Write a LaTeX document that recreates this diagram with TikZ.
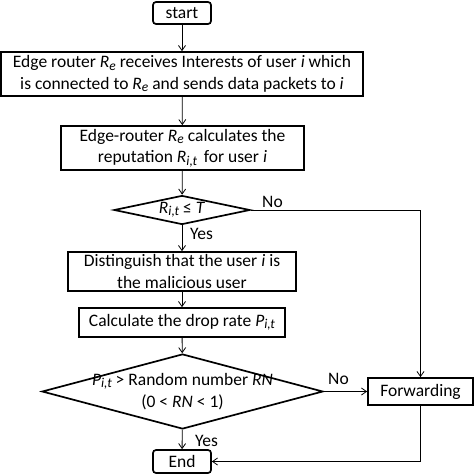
\documentclass[tikz,border=0pt]{standalone}
\usepackage{fontspec}
\setmainfont{Carlito}
\usetikzlibrary{shapes.geometric,arrows.meta}
\newcommand{\mysub}[1]{\raisebox{-0.25ex}{\fontsize{13.5}{13.5}\selectfont\itshape #1}}
\begin{document}
\begin{tikzpicture}[x=1pt,y=-1pt,
  every node/.style={font=\fontsize{17.5}{21.5}\selectfont},
  box/.style={draw,line width=1.7pt,align=center,inner sep=0pt},
  term/.style={box,rounded corners=3pt},
  dia/.style={draw,line width=1.7pt,diamond,inner sep=0pt},
  conn/.style={line width=0.8pt,-{Straight Barb[length=5pt,width=7pt]}},
  lab/.style={inner sep=0pt}]
\useasboundingbox (0,0) rectangle (474,475);
\node[term,minimum width=58pt,minimum height=22pt] (start) at (182,13) {start};
\node[box,minimum width=362pt,minimum height=44pt] (b1) at (182,74)
  {Edge router \textit{R}\mysub{e} receives Interests of user \textit{i} which\\is connected to \textit{R}\mysub{e} and sends data packets to \textit{i}};
\node[box,minimum width=243pt,minimum height=44pt] (b2) at (182.5,148)
  {Edge-router \textit{R}\mysub{e} calculates the\\reputation \textit{R}\mysub{i,t}\, for user \textit{i}};
\node[dia,minimum width=136pt,minimum height=29pt] (d1) at (182,210) {};
\node at (d1) {\textit{R}\mysub{i,t} ≤ \textit{T}};
\node[box,minimum width=228pt,minimum height=39pt] (b3) at (182,271.5)
  {Distinguish that the user \textit{i} is\\the malicious user};
\node[box,minimum width=206pt,minimum height=29pt] (b4) at (182,322.5)
  {Calculate the drop rate \textit{P}\mysub{i,t}};
\node[dia,minimum width=281pt,minimum height=75pt] (d2) at (182.5,391.5) {};
\node[align=center] at (d2) {\textit{P}\mysub{i,t} > Random number \textit{RN}\\(0 < \textit{RN} < 1)};
\node[box,minimum width=105pt,minimum height=27pt] (fw) at (420.5,391.5) {Forwarding};
\node[term,minimum width=58pt,minimum height=23pt] (end) at (182,461.5) {End};
\draw[conn] (start) -- (b1);
\draw[conn] (b1) -- (b2);
\draw[conn] (b2) -- (d1);
\draw[conn] (d1) -- (b3);
\draw[conn] (b3) -- (b4);
\draw[conn] (b4) -- (d2);
\draw[conn] (d2) -- (end);
\draw[conn] (d2) -- (fw);
\draw[conn] (d1.east) -| (fw.north);
\draw[conn] (fw.south) |- (end.east);
\node[lab,anchor=west] (no1) at (262,202) {No};
\node[lab,anchor=west] (yes1) at (190,234) {Yes};
\node[lab,anchor=west] (no2) at (328,379) {No};
\node[lab,anchor=west] (yes2) at (195,441) {Yes};
\end{tikzpicture}
\end{document}
